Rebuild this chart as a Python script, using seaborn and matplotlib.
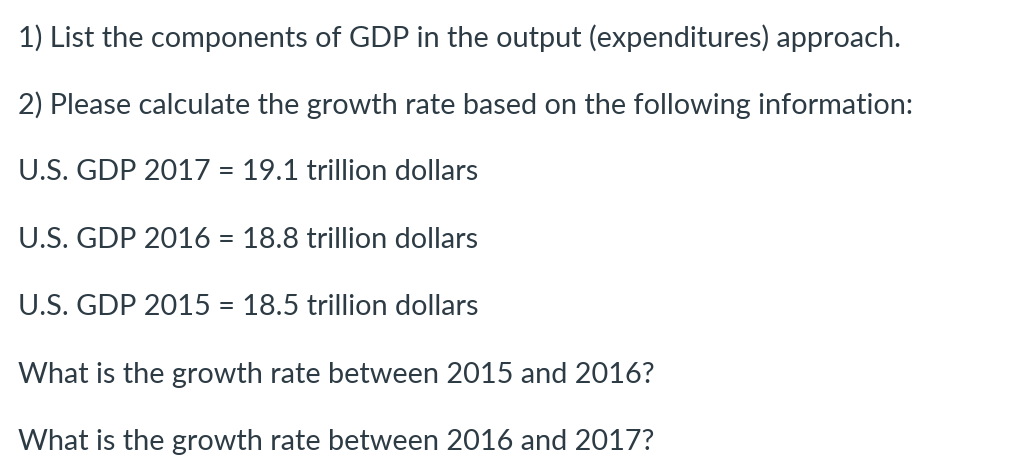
import matplotlib
matplotlib.use("Agg")
import matplotlib.pyplot as plt
import seaborn as sns

lines = [
    "1) List the components of GDP in the output (expenditures) approach.",
    "2) Please calculate the growth rate based on the following information:",
    "U.S. GDP 2017 = 19.1 trillion dollars",
    "U.S. GDP 2016 = 18.8 trillion dollars",
    "U.S. GDP 2015 = 18.5 trillion dollars",
    "What is the growth rate between 2015 and 2016?",
    "What is the growth rate between 2016 and 2017?",
]
y_pix = [38, 105, 172, 240, 307, 375, 442]

sns.set_theme(style="white")
plt.rcParams["font.family"] = ["Lato", "DejaVu Sans"]

fig = plt.figure(figsize=(10.24, 4.71), dpi=100)
ax = fig.add_axes([0, 0, 1, 1])
ax.set_xlim(0, 1024)
ax.set_ylim(471, 0)
ax.axis("off")

for txt, y in zip(lines, y_pix):
    ax.text(18, y, txt, fontsize=20.8, color="#2d3b45", va="center", ha="left")

fig.savefig("out.png", dpi=100, facecolor="white")
